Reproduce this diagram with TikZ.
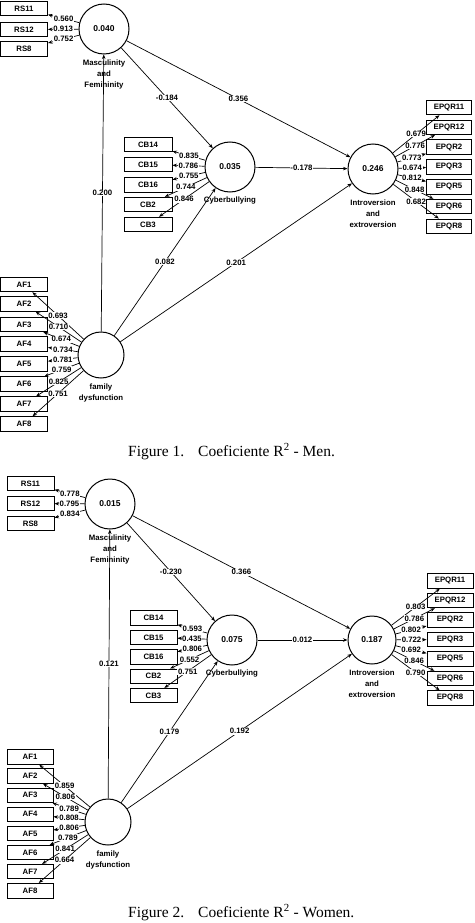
\documentclass[tikz,border=0pt]{standalone}
\usepackage{fontspec}
\setmainfont{Liberation Serif}
\newfontfamily\plsfont{Liberation Sans}
\usetikzlibrary{arrows.meta,positioning}

\begin{document}
\begin{tikzpicture}[x=1pt,y=-1pt,
    latent/.style={draw, circle, line width=1pt, minimum size=50pt, inner sep=0pt,
        font=\plsfont\bfseries\fontsize{8.5}{9}\selectfont},
    ind/.style={draw, line width=0.9pt, minimum height=14.5pt, inner sep=0pt,
        font=\plsfont\bfseries\fontsize{7.8}{9}\selectfont},
    lvname/.style={align=center, inner sep=0pt,
        font=\plsfont\bfseries\fontsize{7.8}{11}\selectfont},
    coef/.style={midway, fill=white, inner sep=0.6pt,
        font=\plsfont\bfseries\fontsize{7.8}{9}\selectfont},
    link/.style={line width=0.7pt, -{Stealth[length=4.5pt,width=3.5pt]}},
    figcap/.style={anchor=base west, inner sep=0pt, font=\fontsize{15.5}{17}\selectfont}]
    \useasboundingbox (0,0) rectangle (474,923);
    % Figure 1: men
    \node[latent] (mMF) at (104,29) {0.040};
    \node[latent] (mCB) at (230,167) {0.035};
    \node[latent] (mIE) at (373,169) {0.246};
    \node[latent, minimum size=46pt] (mFD) at (101,355) {};
    \node[lvname, below=5pt of mMF] (mMFl) {Masculinity\\and\\Femininity};
    \node[lvname, below=4pt of mCB] (mCBl) {Cyberbullying};
    \node[lvname, below=5pt of mIE] (mIEl) {Introversion\\and\\extroversion};
    \node[lvname, below=5pt of mFD] (mFDl) {family\\dysfunction};
    % outer loadings
    \foreach \t/\y/\v in {RS11/8.5/0.560, RS12/29.5/0.913, RS8/49/0.752}{
        \node[ind, minimum width=47pt] (m\t) at (24,\y) {\t};
        \draw[link] (mMF) -- node[coef] {\v} (m\t);
    }
    \foreach \t/\y/\v in {CB14/144.5/0.835, CB15/164.5/0.786, CB16/185/0.755,
        CB2/204.5/0.744, CB3/224.5/0.846}{
        \node[ind, minimum width=48pt] (m\t) at (148,\y) {\t};
        \draw[link] (mCB) -- node[coef] {\v} (m\t);
    }
    \foreach \t/\y/\v in {EPQR11/107.5/0.679, EPQR12/127.3/0.776, EPQR2/147.1/0.773,
        EPQR3/166.9/0.674, EPQR5/186.7/0.812, EPQR6/206.5/0.848, EPQR8/226.3/0.682}{
        \node[ind, minimum width=45pt] (m\t) at (449,\y) {\t};
        \draw[link] (mIE) -- node[coef] {\v} (m\t);
    }
    \foreach \t/\y/\v in {AF1/284.5/0.693, AF2/304/0.710, AF3/324.5/0.674, AF4/344/0.734,
        AF5/364/0.781, AF6/384/0.759, AF7/404/0.825, AF8/424/0.751}{
        \node[ind, minimum width=47pt] (m\t) at (24,\y) {\t};
        \draw[link] (mFD) -- node[coef] {\v} (m\t);
    }
    % path coefficients
    \draw[link] (mFD) -- node[coef] {0.200} (mMF);
    \draw[link] (mFD) -- node[coef] {0.082} (mCB);
    \draw[link] (mFD) -- node[coef] {0.201} (mIE);
    \draw[link] (mMF) -- node[coef] {-0.184} (mCB);
    \draw[link] (mMF) -- node[coef] {0.356} (mIE);
    \draw[link] (mCB) -- node[coef] {-0.178} (mIE);
    \node[figcap] (cap1) at (128,456) {Figure 1.\hspace{14pt}Coeficiente R\textsuperscript{2} - Men.};
    % Figure 2: women
    \node[latent] (wMF) at (110,504) {0.015};
    \node[latent] (wCB) at (232,640) {0.075};
    \node[latent, minimum size=48pt] (wIE) at (372,640) {0.187};
    \node[latent, minimum size=46pt] (wFD) at (108,822) {};
    \node[lvname, below=5pt of wMF] (wMFl) {Masculinity\\and\\Femininity};
    \node[lvname, below=4pt of wCB] (wCBl) {Cyberbullying};
    \node[lvname, below=5pt of wIE] (wIEl) {Introversion\\and\\extroversion};
    \node[lvname, below=5pt of wFD] (wFDl) {family\\dysfunction};
    % outer loadings
    \foreach \t/\y/\v in {RS11/483.5/0.778, RS12/503.5/0.795, RS8/523.5/0.834}{
        \node[ind, minimum width=47pt] (w\t) at (30.5,\y) {\t};
        \draw[link] (wMF) -- node[coef] {\v} (w\t);
    }
    \foreach \t/\y/\v in {CB14/618/0.593, CB15/637.4/0.435, CB16/656.8/0.806,
        CB2/676.2/0.552, CB3/695.6/0.751}{
        \node[ind, minimum width=47pt] (w\t) at (153.5,\y) {\t};
        \draw[link] (wCB) -- node[coef] {\v} (w\t);
    }
    \foreach \t/\y/\v in {EPQR11/581/0.803, EPQR12/600.5/0.786, EPQR2/620/0.802,
        EPQR3/639.5/0.722, EPQR5/659/0.692, EPQR6/678.5/0.846, EPQR8/698/0.790}{
        \node[ind, minimum width=46pt] (w\t) at (450,\y) {\t};
        \draw[link] (wIE) -- node[coef] {\v} (w\t);
    }
    \foreach \t/\y/\v in {AF1/757/0.859, AF2/776.1/0.806, AF3/795.2/0.789, AF4/814.3/0.808,
        AF5/833.4/0.806, AF6/852.5/0.789, AF7/871.6/0.841, AF8/890.7/0.664}{
        \node[ind, minimum width=46pt] (w\t) at (30,\y) {\t};
        \draw[link] (wFD) -- node[coef] {\v} (w\t);
    }
    % path coefficients
    \draw[link] (wFD) -- node[coef] {0.121} (wMF);
    \draw[link] (wFD) -- node[coef] {0.179} (wCB);
    \draw[link] (wFD) -- node[coef] {0.192} (wIE);
    \draw[link] (wMF) -- node[coef] {-0.230} (wCB);
    \draw[link] (wMF) -- node[coef] {0.366} (wIE);
    \draw[link] (wCB) -- node[coef] {0.012} (wIE);
    \node[figcap] (cap2) at (128,917) {Figure 2.\hspace{14pt}Coeficiente R\textsuperscript{2} - Women.};
\end{tikzpicture}
\end{document}
